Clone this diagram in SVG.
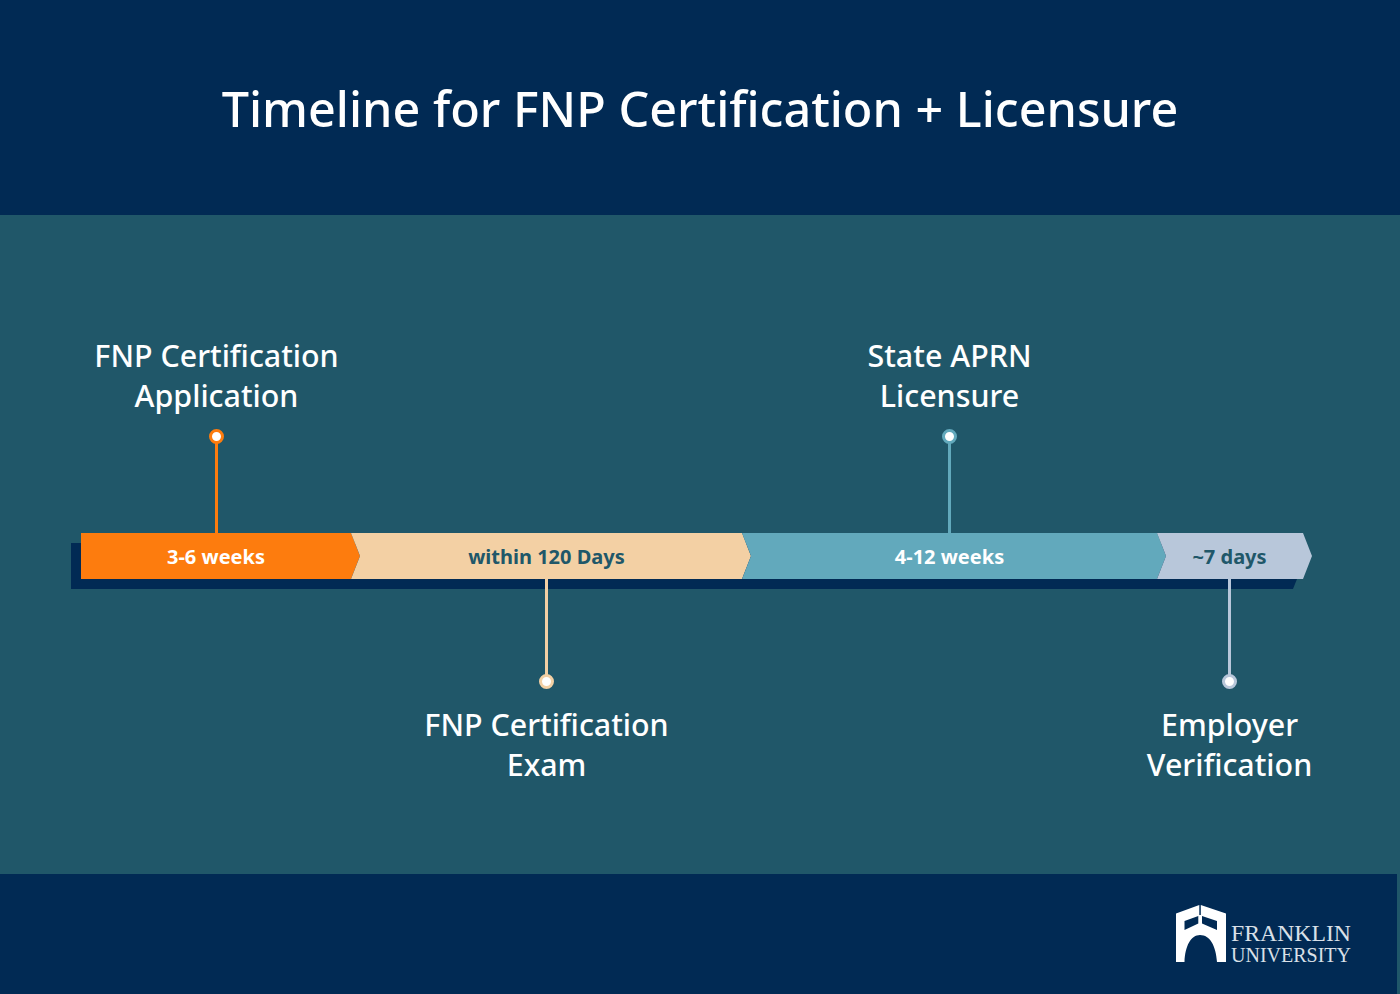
<svg xmlns="http://www.w3.org/2000/svg" width="1400" height="994" viewBox="0 0 1400 994">
<style>
text{font-family:"Noto Sans","Open Sans","Liberation Sans",sans-serif;text-anchor:middle}
.title{font-size:48.5px;font-weight:500;fill:#fff}
.lab{font-size:30.4px;font-weight:500;fill:#fff}
.dur{font-size:20px;font-weight:700}
.stem{stroke-width:3;fill:none}
.dot{fill:#fff;stroke-width:3}
.logo{font-family:"Liberation Serif",serif;text-anchor:start;fill:#d9e0e8}
</style>
<rect width="1400" height="994" fill="#205769"/>
<rect id="header" width="1400" height="215" fill="#012a54"/>
<rect id="footer" y="874" width="1397" height="120" fill="#012a54"/>
<text class="title" x="700" y="126.500">Timeline for FNP Certification + Licensure</text>
<polygon id="bar-shadow" points="71,543 1297,543 1297,579 1293,589 71,589" fill="#012a54"/>
<g id="connectors">
<line class="stem" x1="216.500" y1="436.500" x2="216.500" y2="534" stroke="#fd7c0e"/>
<line class="stem" x1="546.500" y1="578" x2="546.500" y2="681.500" stroke="#f3d0a4"/>
<line class="stem" x1="949.500" y1="436.500" x2="949.500" y2="534" stroke="#62a9bc"/>
<line class="stem" x1="1229.500" y1="578" x2="1229.500" y2="681.500" stroke="#b8c7da"/>
</g>
<g id="seg-1"><polygon points="81,533 351,533 360,556 351,579 81,579" fill="#fd7c0e"/><text class="dur" x="216" y="564" fill="#fff">3-6 weeks</text></g>
<g id="seg-2"><polygon points="351,533 742,533 751,556 742,579 351,579 360,556" fill="#f3d0a4"/><text class="dur" x="546.500" y="564" fill="#205769">within 120 Days</text></g>
<g id="seg-3"><polygon points="742,533 1157,533 1166,556 1157,579 742,579 751,556" fill="#62a9bc"/><text class="dur" x="949.500" y="564" fill="#fff">4-12 weeks</text></g>
<g id="seg-4"><polygon points="1157,533 1303,533 1312,556 1303,579 1157,579 1166,556" fill="#b8c7da"/><text class="dur" x="1229.500" y="564" fill="#205769">~7 days</text></g>
<g id="node-application"><circle class="dot" cx="216.500" cy="436.500" r="6" stroke="#fd7c0e"/><text class="lab" x="216.500" y="367.300">FNP Certification</text><text class="lab" x="216.500" y="407.300">Application</text></g>
<g id="node-exam"><circle class="dot" cx="546.500" cy="681.500" r="6" stroke="#f3d0a4"/><text class="lab" x="546.500" y="736.300">FNP Certification</text><text class="lab" x="546.500" y="776.300">Exam</text></g>
<g id="node-licensure"><circle class="dot" cx="949.500" cy="436.500" r="6" stroke="#62a9bc"/><text class="lab" x="949.500" y="367.300">State APRN</text><text class="lab" x="949.500" y="407.300">Licensure</text></g>
<g id="node-verification"><circle class="dot" cx="1229.500" cy="681.500" r="6" stroke="#b8c7da"/><text class="lab" x="1229.500" y="736.300">Employer</text><text class="lab" x="1229.500" y="776.300">Verification</text></g>
<g id="logo">
<path fill="#fff" fill-rule="evenodd" d="M1176,913.500 L1199.300,905 V915 H1200.800 V905 L1226,913.500 V962 H1217 C1216,946 1210,935 1200,935 C1191,935 1185,946 1184.500,962 H1176 Z M1184.500,921 L1198.300,916 V923.500 L1184.500,930 Z M1202,916 L1217,921 V930 L1202,923.500 Z"/>
<text class="logo" x="1231" y="941" font-size="22.500" textLength="120" lengthAdjust="spacingAndGlyphs">FRANKLIN</text>
<text class="logo" x="1231" y="961.500" font-size="20.500" textLength="120" lengthAdjust="spacingAndGlyphs">UNIVERSITY</text>
</g>
</svg>
